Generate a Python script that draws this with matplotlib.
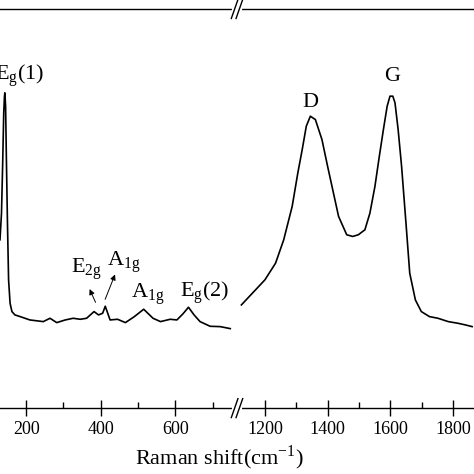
import matplotlib
matplotlib.use("Agg")
from matplotlib import pyplot as plt
from matplotlib.ticker import MultipleLocator
from matplotlib.lines import Line2D

plt.rcParams['font.family'] = ['Liberation Serif', 'DejaVu Serif']
plt.rcParams['mathtext.fontset'] = 'custom'
plt.rcParams['mathtext.rm'] = 'Liberation Serif'

# low-wavenumber segment (TiO2 modes)
low_shift = [130, 134, 137, 140, 142, 143, 145, 147, 150, 153, 157, 162, 170, 184, 210, 246, 264, 282,
             305, 326, 345, 362, 382, 394, 405, 412, 425, 445, 466, 490, 515, 540, 560, 586,
             604, 620, 635, 650, 666, 693, 720, 747]
low_int = [30, 38, 52, 68, 73, 74, 70, 55, 35, 18, 11, 8.5, 7.5, 7, 6, 5.5, 6.5, 5.2,
           6, 6.5, 6.2, 6.5, 8.5, 7.5, 8, 10.1, 6, 6.2, 5.2, 7, 9.2, 6.5, 5.5, 6.2,
           6, 7.8, 9.8, 7.5, 5.5, 4.1, 4.0, 3.4]

# high-wavenumber segment (carbon D and G bands)
high_shift = [1125, 1150, 1170, 1200, 1234, 1260, 1287, 1305, 1319, 1332, 1345, 1361, 1382, 1400,
              1414, 1435, 1461, 1480, 1498, 1519, 1535, 1551, 1565, 1578, 1590, 1599, 1608, 1615,
              1625, 1636, 1650, 1662, 1680, 1699, 1725, 1752, 1785, 1816, 1840, 1861]
high_int = [10.5, 13, 15, 18, 23, 30, 40, 50, 57, 64, 67, 66, 60, 52,
            46, 37, 31.5, 31, 31.5, 33, 38, 46, 55, 63, 70, 73, 73, 71,
            63, 52, 35, 20, 12, 8.5, 7, 6.5, 5.5, 5, 4.5, 4]

fig = plt.figure(figsize=(4.74, 4.74), dpi=100)
bottom, height = 0.139, 0.842
ax1 = fig.add_axes([0.0, bottom, 0.5, height])
ax2 = fig.add_axes([0.5, bottom, 0.5, height])

ax1.plot(low_shift, low_int, color='black', lw=1.2)
ax2.plot(high_shift, high_int, color='black', lw=1.2)
ax1.set_xlim(130, 765)
ax2.set_xlim(1111, 1867)

for ax in (ax1, ax2):
    ax.set_ylim(-20.4, 99.1)
    ax.set_yticks([])
    ax.xaxis.set_major_locator(MultipleLocator(200))
    ax.xaxis.set_minor_locator(MultipleLocator(100))
    ax.tick_params(axis='x', which='major', direction='inout', length=12, width=1, labelsize=13, pad=3)
    ax.tick_params(axis='x', which='minor', direction='in', length=4, width=1)
    for s in ax.spines.values():
        s.set_linewidth(1)
    ax.spines['left'].set_visible(False)
    ax.spines['right'].set_visible(False)

# peak labels
ax1.text(117, 79, r'E$_{\rm g}$(1)', fontsize=16, ha='left', va='center', clip_on=False)
ax1.text(361, 21, r'E$_{\rm 2g}$', fontsize=16, ha='center', va='center')
ax1.text(462, 23, r'A$_{\rm 1g}$', fontsize=16, ha='center', va='center')
ax1.text(526, 13.5, r'A$_{\rm 1g}$', fontsize=16, ha='center', va='center')
ax1.text(677, 14, r'E$_{\rm g}$(2)', fontsize=16, ha='center', va='center')
ax2.text(1344, 71, 'D', fontsize=16, ha='center', va='center')
ax2.text(1606, 79, 'G', fontsize=16, ha='center', va='center')
ax1.annotate('', xy=(367, 16), xytext=(389, 10.5),
             arrowprops=dict(arrowstyle='-|>', color='black', lw=0.7, mutation_scale=8))
ax1.annotate('', xy=(441, 20.4), xytext=(409, 11.4),
             arrowprops=dict(arrowstyle='-|>', color='black', lw=0.7, mutation_scale=8))

# axis break marks
for yb in (bottom, bottom + height):
    fig.add_artist(Line2D([0.493, 0.507], [yb, yb], color='white', lw=3))
    for dx in (-0.005, 0.005):
        fig.add_artist(Line2D([0.493 + dx, 0.507 + dx], [yb - 0.02, yb + 0.02], color='black', lw=1))

fig.text(0.463, 0.034, r'Raman shift(cm$^{-1}$)', fontsize=16, ha='center', va='center')

fig.savefig('out.png', dpi=100)
